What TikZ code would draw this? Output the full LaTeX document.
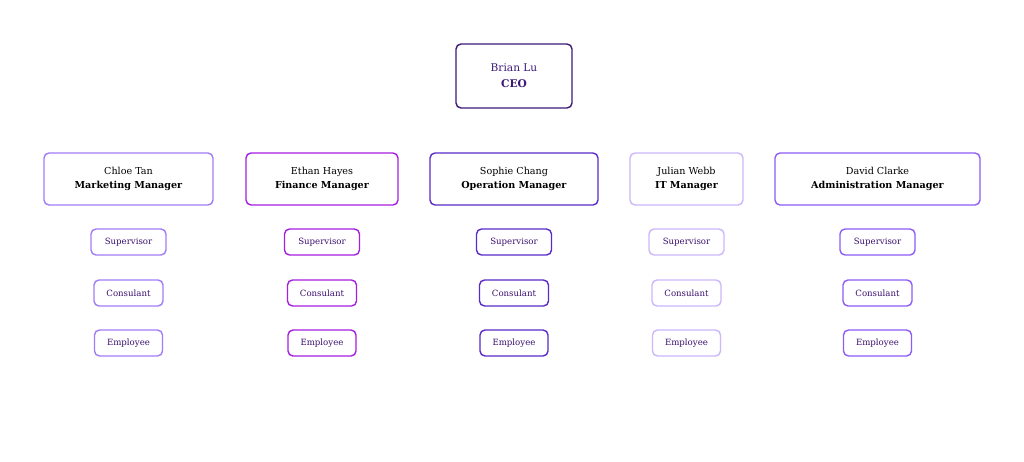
\documentclass[tikz,border=0pt]{standalone}
\usepackage{fontspec}
\setmainfont{DejaVu Serif}
\setsansfont{DejaVu Sans}
\begin{document}
\begin{tikzpicture}[x=1pt,y=-1pt,
  box/.style={draw=#1,line width=1.4pt,rounded corners=5pt,fill=white,align=center,inner sep=0pt},
  mgr/.style={box=#1,minimum height=52pt,font=\fontsize{9.6}{14}\selectfont,text=black},
  sub/.style={box=#1,minimum height=26pt,font=\fontsize{8.6}{10}\selectfont,text=subtxt},
  ln/.style={draw=#1,line width=1.4pt,rounded corners=7pt}]
\definecolor{ceoc}{HTML}{3D1A78}
\definecolor{subtxt}{HTML}{3B0F6E}
\definecolor{cA}{HTML}{A27BF7}
\definecolor{cB}{HTML}{A61EE0}
\definecolor{cC}{HTML}{5A2BC8}
\definecolor{cD}{HTML}{CDB7FB}
\definecolor{cE}{HTML}{8E5CF6}
\definecolor{hl}{HTML}{8A6FA8}
\useasboundingbox (0,0) rectangle (1024,461);
\fill[white] (0,0) rectangle (1024,461);
% connectors first
\coordinate (bus) at (514,120);
\node[box=ceoc,minimum width=116pt,minimum height=64pt,text=ceoc,font=\fontsize{10.6}{16}\selectfont] (ceo) at (514,76) {Brian Lu\\\textbf{CEO}};
\node[mgr=cA,minimum width=169pt] (m1) at (128.5,179) {Chloe Tan\\\textbf{Marketing Manager}};
\node[mgr=cB,minimum width=152pt] (m2) at (322,179) {Ethan Hayes\\\textbf{Finance Manager}};
\node[mgr=cC,minimum width=168pt] (m3) at (514,179) {Sophie Chang\\\textbf{Operation Manager}};
\node[mgr=cD,minimum width=113pt] (m4) at (686.5,179) {Julian Webb\\\textbf{IT Manager}};
\node[mgr=cE,minimum width=205pt] (m5) at (877.5,179) {David Clarke\\\textbf{Administration Manager}};
\begin{scope}[on background layer/.style={}]
\end{scope}
\foreach \i/\c/\x in {1/cA/128.5,2/cB/322,3/cC/514,4/cD/686.5,5/cE/877.5}{
  \node[sub=\c,minimum width=75pt] (s\i) at (\x,242) {Supervisor};
  \node[sub=\c,minimum width=69pt] (c\i) at (\x,293) {Consulant};
  \node[sub=\c,minimum width=68pt] (e\i) at (\x,343) {Employee};
}
\end{tikzpicture}
\end{document}
